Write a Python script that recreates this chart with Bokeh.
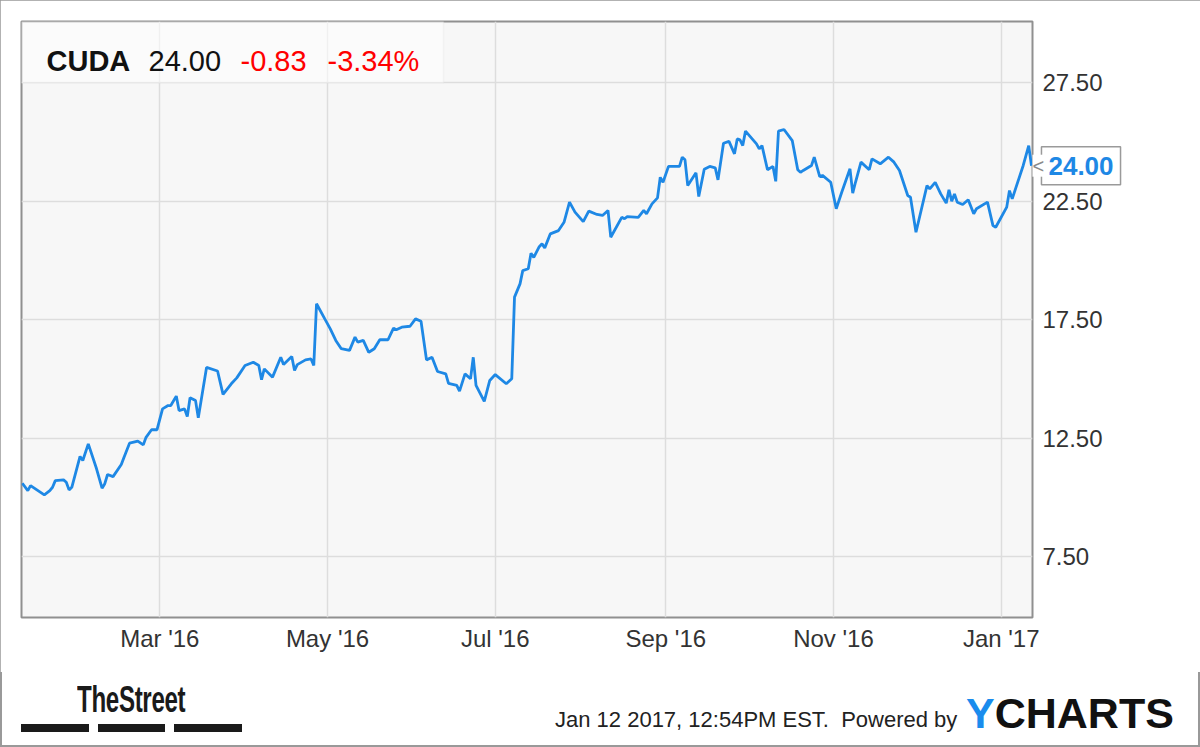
from datetime import datetime
import pandas as pd
from bokeh.plotting import figure
from bokeh.layouts import column
from bokeh.models import (ColumnDataSource, FixedTicker, Range1d, Label, BoxAnnotation, Div)
from bokeh.embed import file_html
from bokeh.resources import INLINE

# ---------------- data ----------------
symbol = "CUDA"
last_price = 24.00
change = -0.83
change_pct = -3.34

dates = [
    "2016-01-11", "2016-01-13", "2016-01-14", "2016-01-19", "2016-01-21", "2016-01-22",
    "2016-01-23", "2016-01-26", "2016-01-27", "2016-01-28", "2016-01-29", "2016-02-01",
    "2016-02-02", "2016-02-04", "2016-02-07", "2016-02-09", "2016-02-10", "2016-02-11",
    "2016-02-13", "2016-02-16", "2016-02-17", "2016-02-19", "2016-02-22", "2016-02-24",
    "2016-02-25", "2016-02-27", "2016-02-29", "2016-03-02", "2016-03-04", "2016-03-05",
    "2016-03-07", "2016-03-08", "2016-03-10", "2016-03-11", "2016-03-12", "2016-03-14",
    "2016-03-15", "2016-03-18", "2016-03-22", "2016-03-24", "2016-03-27", "2016-03-29",
    "2016-04-01", "2016-04-04", "2016-04-06", "2016-04-07", "2016-04-08", "2016-04-11",
    "2016-04-14", "2016-04-15", "2016-04-18", "2016-04-19", "2016-04-20", "2016-04-23",
    "2016-04-25", "2016-04-26", "2016-04-27", "2016-04-30", "2016-05-02", "2016-05-04",
    "2016-05-06", "2016-05-09", "2016-05-11", "2016-05-12", "2016-05-14", "2016-05-16",
    "2016-05-18", "2016-05-20", "2016-05-23", "2016-05-25", "2016-05-26", "2016-05-28",
    "2016-05-31", "2016-06-02", "2016-06-04", "2016-06-06", "2016-06-08", "2016-06-10",
    "2016-06-13", "2016-06-14", "2016-06-17", "2016-06-18", "2016-06-20", "2016-06-22",
    "2016-06-23", "2016-06-24", "2016-06-27", "2016-06-29", "2016-07-01", "2016-07-05",
    "2016-07-07", "2016-07-08", "2016-07-10", "2016-07-11", "2016-07-13", "2016-07-14",
    "2016-07-15", "2016-07-17", "2016-07-18", "2016-07-19", "2016-07-21", "2016-07-24",
    "2016-07-26", "2016-07-28", "2016-07-30", "2016-08-02", "2016-08-04", "2016-08-07",
    "2016-08-09", "2016-08-11", "2016-08-12", "2016-08-16", "2016-08-17", "2016-08-18",
    "2016-08-22", "2016-08-24", "2016-08-25", "2016-08-27", "2016-08-29", "2016-08-30",
    "2016-08-31", "2016-09-02", "2016-09-06", "2016-09-07", "2016-09-08", "2016-09-09",
    "2016-09-12", "2016-09-13", "2016-09-15", "2016-09-17", "2016-09-19", "2016-09-20",
    "2016-09-22", "2016-09-24", "2016-09-26", "2016-09-27", "2016-09-28", "2016-09-29",
    "2016-09-30", "2016-10-04", "2016-10-05", "2016-10-06", "2016-10-08", "2016-10-10",
    "2016-10-11", "2016-10-12", "2016-10-14", "2016-10-17", "2016-10-19", "2016-10-20",
    "2016-10-21", "2016-10-24", "2016-10-25", "2016-10-27", "2016-10-28", "2016-10-31",
    "2016-11-02", "2016-11-04", "2016-11-07", "2016-11-08", "2016-11-09", "2016-11-11",
    "2016-11-14", "2016-11-15", "2016-11-18", "2016-11-21", "2016-11-23", "2016-11-25",
    "2016-11-28", "2016-11-29", "2016-12-01", "2016-12-05", "2016-12-06", "2016-12-08",
    "2016-12-10", "2016-12-12", "2016-12-13", "2016-12-14", "2016-12-15", "2016-12-16",
    "2016-12-18", "2016-12-20", "2016-12-22", "2016-12-23", "2016-12-27", "2016-12-29",
    "2016-12-30", "2017-01-03", "2017-01-04", "2017-01-05", "2017-01-09", "2017-01-11",
    "2017-01-12",
]

prices = [
    10.59, 10.28, 10.49, 10.10, 10.28, 10.42,
    10.70, 10.73, 10.63, 10.31, 10.42, 11.72,
    11.55, 12.25, 11.20, 10.38, 10.57, 10.96,
    10.87, 11.38, 11.69, 12.28, 12.37, 12.21,
    12.53, 12.85, 12.85, 13.73, 13.87, 13.87,
    14.27, 13.66, 13.73, 13.41, 14.20, 14.08,
    13.35, 15.48, 15.33, 14.34, 14.79, 15.04,
    15.56, 15.70, 15.56, 14.96, 15.42, 15.07,
    15.91, 15.60, 15.94, 15.35, 15.60, 15.80,
    15.84, 15.56, 18.17, 17.53, 17.11, 16.62,
    16.27, 16.20, 16.76, 16.55, 16.62, 16.12,
    16.27, 16.65, 16.65, 17.14, 17.07, 17.18,
    17.22, 17.53, 17.43, 15.80, 15.91, 15.31,
    15.21, 14.81, 14.72, 14.48, 15.21, 15.00,
    15.91, 14.72, 14.05, 14.93, 15.18, 14.79,
    15.00, 18.45, 19.01, 19.57, 19.65, 20.30,
    20.13, 20.58, 20.70, 20.53, 21.12, 21.26,
    21.61, 22.46, 22.04, 21.64, 22.08, 21.94,
    21.90, 22.11, 20.98, 21.82, 21.76, 21.85,
    21.82, 22.11, 21.97, 22.39, 22.64, 23.51,
    23.30, 23.97, 23.97, 24.36, 24.25, 23.16,
    23.70, 22.70, 23.85, 23.97, 23.91, 23.40,
    24.95, 25.03, 24.50, 25.13, 25.09, 24.85,
    25.46, 24.92, 24.71, 24.85, 23.83, 23.97,
    23.34, 25.46, 25.53, 25.06, 23.83, 23.72,
    23.80, 24.01, 24.36, 23.54, 23.59, 23.30,
    22.18, 22.88, 23.87, 22.84, 23.30, 24.15,
    23.83, 24.29, 24.08, 24.36, 24.15, 23.80,
    22.74, 22.67, 21.19, 23.16, 23.02, 23.30,
    22.81, 22.42, 22.98, 22.50, 22.81, 22.46,
    22.36, 22.56, 21.97, 22.18, 22.46, 21.47,
    21.40, 22.25, 22.95, 22.60, 24.01, 24.85,
    24.00,
]

xtick_dates = ["2016-03-01", "2016-05-01", "2016-07-01", "2016-09-01", "2016-11-01", "2017-01-01"]
xtick_labels = ["Mar '16", "May '16", "Jul '16", "Sep '16", "Nov '16", "Jan '17"]
ytick_values = [7.5, 12.5, 17.5, 22.5, 27.5]
ytick_labels = ["7.50", "12.50", "17.50", "22.50", "27.50"]

footer_text = "Jan 12 2017, 12:54PM EST.  Powered by"
brand_y = "Y"
brand_rest = "CHARTS"
logo_text = "TheStreet"

# ---------------- layout ----------------
W = 1200
H1, H2 = 672, 75
L, R, T, B = 21, 168, 21, 55
FW, FH = W - L - R, H1 - T - B
YMIN, YMAX = 4.92, 30.09
X_START = datetime(2016, 1, 10, 17)
X_END = datetime(2017, 1, 12, 9)

FONT = "Liberation Sans"
BLUE = "#1e88e5"
EDGE = "#999999"

src = ColumnDataSource(dict(date=pd.to_datetime(dates), price=prices))

p = figure(width=W, height=H1, x_axis_type="datetime", y_axis_location="right",
           x_range=Range1d(X_START, X_END), y_range=Range1d(YMIN, YMAX),
           output_backend="svg", toolbar_location=None,
           min_border_left=L, min_border_right=R, min_border_top=T, min_border_bottom=B)

p.background_fill_color = "#f7f7f7"
p.border_fill_color = "white"
p.outline_line_color = "#909090"
p.outline_line_width = 2

# axes
xt = [int(pd.Timestamp(d).value // 10**6) for d in xtick_dates]
xa = p.xaxis[0]
xa.ticker = FixedTicker(ticks=xt)
xa.major_label_overrides = {t: lab for t, lab in zip(xt, xtick_labels)}
ya = p.yaxis[0]
ya.ticker = FixedTicker(ticks=ytick_values)
ya.major_label_overrides = {v: lab for v, lab in zip(ytick_values, ytick_labels)}
for ax in (xa, ya):
    ax.axis_line_color = None
    ax.major_tick_line_color = None
    ax.minor_tick_line_color = None
    ax.major_tick_out = 0
    ax.major_tick_in = 0
    ax.minor_tick_out = 0
    ax.major_label_text_font = FONT
    ax.major_label_text_font_size = "24px"
    ax.major_label_text_color = "#333333"
xa.major_label_standoff = 7
ya.major_label_standoff = 10

p.grid.grid_line_color = "#dddddd"
p.grid.grid_line_width = 1.5

# header box (semi-transparent so the grid shows through)
p.add_layout(BoxAnnotation(left=0, left_units="screen", right=422, right_units="screen",
                           bottom=27.5, top=YMAX, fill_color="white", fill_alpha=0.55,
                           line_color="#e2e2e2", line_width=1.5))

# price line
p.line(x="date", y="price", source=src, line_color=BLUE, line_width=2.8)

# header texts
hy = FH - 39
for hx, txt, style, color in ((25, symbol, "bold", "#111111"),
                               (127, f"{last_price:.2f}", "normal", "#111111"),
                               (219, f"{change:.2f}", "normal", "#ff0000"),
                               (306, f"{change_pct:.2f}%", "normal", "#ff0000")):
    p.add_layout(Label(x=hx, y=hy, x_units="screen", y_units="screen", text=txt,
                       text_baseline="alphabetic", text_font=FONT, text_font_style=style,
                       text_font_size="29px", text_color=color))

# last-price tag beside the axis (placed in the right panel so it is not clipped)
last_ms = pd.Timestamp(dates[-1]).value / 1e6
p.add_layout(Label(x=last_ms, y=last_price, x_offset=10, text=f"{last_price:.2f}",
                   text_baseline="middle", text_align="left", text_font=FONT,
                   text_font_style="bold", text_font_size="26px", text_color=BLUE,
                   background_fill_color="white", background_fill_alpha=1,
                   border_line_color="#9a9a9a", border_line_width=1.5, padding=(7, 10)), "right")
p.add_layout(Label(x=last_ms, y=last_price, x_offset=1, text="<",
                   text_baseline="middle", text_align="left", text_font=FONT,
                   text_font_size="20px", text_color="#8a8a8a",
                   background_fill_color="white", background_fill_alpha=1), "right")

# ---------------- footer (HTML, so it is not bound to a plot frame) ----------------
bars = [(21, 89), (98, 165), (174, 242)]
bar_html = "".join(
    f'<div style="position:absolute;left:{a}px;top:52px;width:{b - a}px;height:8px;'
    f'background:#1a1a1a;"></div>' for a, b in bars)
edge_html = (
    f'<div style="position:absolute;left:0;top:0;width:2px;height:{H2}px;background:{EDGE};"></div>'
    f'<div style="position:absolute;right:0;top:0;width:2px;height:{H2}px;background:{EDGE};"></div>'
    f'<div style="position:absolute;left:0;bottom:0;width:{W}px;height:2px;background:{EDGE};"></div>'
)
footer_html = (
    f'<div style="position:relative;width:{W}px;height:{H2}px;'
    f'font-family:\'Liberation Sans\',Arial,sans-serif;line-height:1;white-space:pre;">'
    f'<span style="position:absolute;left:77px;top:10px;font-size:36px;font-weight:bold;'
    f'color:#1a1a1a;transform:scaleX(0.67);transform-origin:0 0;letter-spacing:-0.5px;">{logo_text}</span>'
    f'{bar_html}'
    f'<span style="position:absolute;left:555px;top:37px;font-size:22px;color:#222222;">{footer_text}</span>'
    f'<span style="position:absolute;left:966px;top:20px;font-size:43px;font-weight:bold;color:#111111;">'
    f'<span style="color:#1a8ced;">{brand_y}</span>{brand_rest}</span>'
    f'{edge_html}'
    f'</div>'
)
footer = Div(text=footer_html, width=W, height=H2, margin=0)

layout = column(p, footer, spacing=0,
                styles={"outline": f"2px solid {EDGE}", "outline-offset": "-2px"})

open("out.html", "w").write(file_html(layout, INLINE))
